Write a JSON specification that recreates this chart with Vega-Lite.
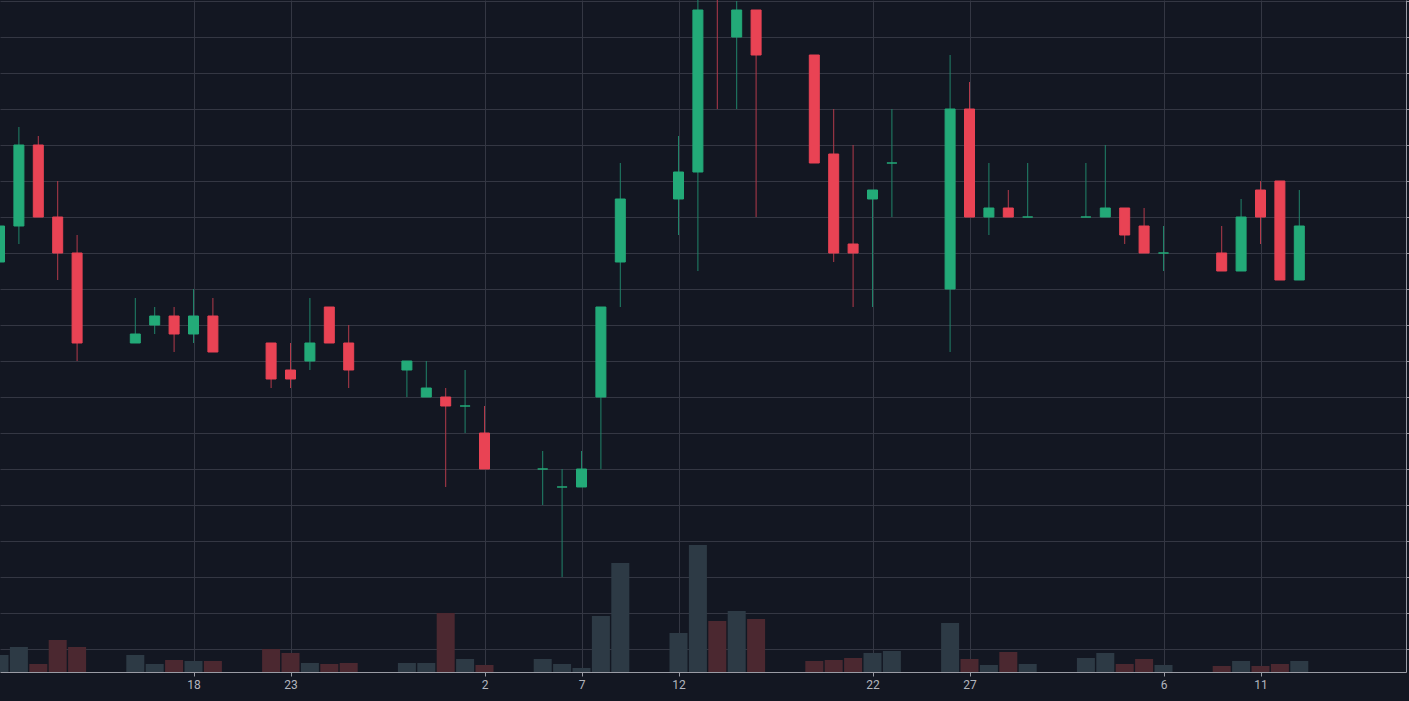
{
  "$schema": "https://vega.github.io/schema/vega-lite/v6.json",
  "width": 1406,
  "height": 672,
  "autosize": {"type": "none"},
  "padding": {"left": 0, "top": 0, "right": 3, "bottom": 29},
  "background": "#131722",
  "config": {
    "view": {"stroke": null, "fill": "#131722"},
    "axis": {
      "gridColor": "#343743",
      "gridWidth": 1,
      "domainColor": "#9a9ca5",
      "tickColor": "#9a9ca5",
      "labelColor": "#b2b5be",
      "labelFont": "Roboto",
      "labelFontSize": 12,
      "title": null
    }
  },
  "data": {
    "values": [
      {"date": "2024-07-08", "open": 110.75, "high": 111.75, "low": 110.75, "close": 111.75, "volume": 170000},
      {"date": "2024-07-09", "open": 111.75, "high": 114.5, "low": 111.25, "close": 114.0, "volume": 250000},
      {"date": "2024-07-10", "open": 114.0, "high": 114.25, "low": 112.0, "close": 112.0, "volume": 80000},
      {"date": "2024-07-11", "open": 112.0, "high": 113.0, "low": 110.25, "close": 111.0, "volume": 320000},
      {"date": "2024-07-12", "open": 111.0, "high": 111.5, "low": 108.0, "close": 108.5, "volume": 250000},
      {"date": "2024-07-15", "open": 108.5, "high": 109.75, "low": 108.5, "close": 108.75, "volume": 170000},
      {"date": "2024-07-16", "open": 109.0, "high": 109.5, "low": 108.75, "close": 109.25, "volume": 80000},
      {"date": "2024-07-17", "open": 109.25, "high": 109.5, "low": 108.25, "close": 108.75, "volume": 120000},
      {"date": "2024-07-18", "open": 108.75, "high": 110.0, "low": 108.5, "close": 109.25, "volume": 110000},
      {"date": "2024-07-19", "open": 109.25, "high": 109.75, "low": 108.25, "close": 108.25, "volume": 110000},
      {"date": "2024-07-22", "open": 108.5, "high": 108.5, "low": 107.25, "close": 107.5, "volume": 230000},
      {"date": "2024-07-23", "open": 107.75, "high": 108.5, "low": 107.25, "close": 107.5, "volume": 190000},
      {"date": "2024-07-24", "open": 108.0, "high": 109.75, "low": 107.75, "close": 108.5, "volume": 90000},
      {"date": "2024-07-25", "open": 109.5, "high": 109.5, "low": 108.5, "close": 108.5, "volume": 80000},
      {"date": "2024-07-26", "open": 108.5, "high": 109.0, "low": 107.25, "close": 107.75, "volume": 90000},
      {"date": "2024-07-29", "open": 107.75, "high": 108.0, "low": 107.0, "close": 108.0, "volume": 90000},
      {"date": "2024-07-30", "open": 107.0, "high": 108.0, "low": 107.0, "close": 107.25, "volume": 90000},
      {"date": "2024-07-31", "open": 107.0, "high": 107.25, "low": 104.5, "close": 106.75, "volume": 590000},
      {"date": "2024-08-01", "open": 106.75, "high": 107.75, "low": 106.0, "close": 106.75, "volume": 130000},
      {"date": "2024-08-02", "open": 106.0, "high": 106.75, "low": 105.0, "close": 105.0, "volume": 70000},
      {"date": "2024-08-05", "open": 105.0, "high": 105.5, "low": 104.0, "close": 105.0, "volume": 130000},
      {"date": "2024-08-06", "open": 104.5, "high": 105.0, "low": 102.0, "close": 104.5, "volume": 80000},
      {"date": "2024-08-07", "open": 104.5, "high": 105.5, "low": 104.5, "close": 105.0, "volume": 40000},
      {"date": "2024-08-08", "open": 107.0, "high": 109.5, "low": 105.0, "close": 109.5, "volume": 560000},
      {"date": "2024-08-09", "open": 110.75, "high": 113.5, "low": 109.5, "close": 112.5, "volume": 1090000},
      {"date": "2024-08-12", "open": 112.5, "high": 114.25, "low": 111.5, "close": 113.25, "volume": 390000},
      {"date": "2024-08-13", "open": 113.25, "high": 118.5, "low": 110.5, "close": 117.75, "volume": 1270000},
      {"date": "2024-08-14", "open": 119.5, "high": 120.0, "low": 115.0, "close": 118.5, "volume": 510000},
      {"date": "2024-08-15", "open": 117.0, "high": 118.0, "low": 115.0, "close": 117.75, "volume": 610000},
      {"date": "2024-08-16", "open": 117.75, "high": 117.75, "low": 112.0, "close": 116.5, "volume": 530000},
      {"date": "2024-08-19", "open": 116.5, "high": 116.5, "low": 113.5, "close": 113.5, "volume": 110000},
      {"date": "2024-08-20", "open": 113.75, "high": 115.0, "low": 110.75, "close": 111.0, "volume": 120000},
      {"date": "2024-08-21", "open": 111.25, "high": 114.0, "low": 109.5, "close": 111.0, "volume": 140000},
      {"date": "2024-08-22", "open": 112.5, "high": 112.75, "low": 109.5, "close": 112.75, "volume": 190000},
      {"date": "2024-08-23", "open": 113.5, "high": 115.0, "low": 112.0, "close": 113.5, "volume": 210000},
      {"date": "2024-08-26", "open": 110.0, "high": 116.5, "low": 108.25, "close": 115.0, "volume": 490000},
      {"date": "2024-08-27", "open": 115.0, "high": 115.75, "low": 112.0, "close": 112.0, "volume": 130000},
      {"date": "2024-08-28", "open": 112.0, "high": 113.5, "low": 111.5, "close": 112.25, "volume": 70000},
      {"date": "2024-08-29", "open": 112.25, "high": 112.75, "low": 112.0, "close": 112.0, "volume": 200000},
      {"date": "2024-08-30", "open": 112.0, "high": 113.5, "low": 112.0, "close": 112.0, "volume": 80000},
      {"date": "2024-09-02", "open": 112.0, "high": 113.5, "low": 112.0, "close": 112.0, "volume": 140000},
      {"date": "2024-09-03", "open": 112.0, "high": 114.0, "low": 112.0, "close": 112.25, "volume": 190000},
      {"date": "2024-09-04", "open": 112.25, "high": 112.25, "low": 111.25, "close": 111.5, "volume": 80000},
      {"date": "2024-09-05", "open": 111.75, "high": 112.25, "low": 111.0, "close": 111.0, "volume": 130000},
      {"date": "2024-09-06", "open": 111.0, "high": 111.75, "low": 110.5, "close": 111.0, "volume": 70000},
      {"date": "2024-09-09", "open": 111.0, "high": 111.75, "low": 110.5, "close": 110.5, "volume": 60000},
      {"date": "2024-09-10", "open": 110.5, "high": 112.5, "low": 110.5, "close": 112.0, "volume": 110000},
      {"date": "2024-09-11", "open": 112.75, "high": 113.0, "low": 111.25, "close": 112.0, "volume": 60000},
      {"date": "2024-09-12", "open": 113.0, "high": 113.0, "low": 110.25, "close": 110.25, "volume": 80000},
      {"date": "2024-09-13", "open": 110.25, "high": 112.75, "low": 110.25, "close": 111.75, "volume": 110000}
    ]
  },
  "layer": [
    {
      "mark": {"type": "bar", "size": 18, "clip": true},
      "encoding": {
        "x": {
          "field": "date", "type": "temporal",
          "scale": {"type": "utc", "padding": 0, "domain": [{"year": 2024, "month": 7, "date": 8, "hours": 0, "minutes": 37, "utc": true}, {"year": 2024, "month": 9, "date": 18, "hours": 12, "utc": true}]},
          "axis": {
            "orient": "bottom",
            "values": [
              {"year": 2024, "month": 7, "date": 8, "utc": true},
              {"year": 2024, "month": 7, "date": 18, "utc": true},
              {"year": 2024, "month": 7, "date": 23, "utc": true},
              {"year": 2024, "month": 8, "date": 2, "utc": true},
              {"year": 2024, "month": 8, "date": 7, "utc": true},
              {"year": 2024, "month": 8, "date": 12, "utc": true},
              {"year": 2024, "month": 8, "date": 22, "utc": true},
              {"year": 2024, "month": 8, "date": 27, "utc": true},
              {"year": 2024, "month": 9, "date": 6, "utc": true},
              {"year": 2024, "month": 9, "date": 11, "utc": true}
            ],
            "labelExpr": "utcFormat(datum.value, '%-d')",
            "grid": true,
            "tickSize": 4,
            "labelPadding": 3,
            "labelFlush": false,
            "labelOverlap": false
          }
        },
        "y": {"field": "volume", "type": "quantitative", "scale": {"domain": [0, 6720000], "nice": false, "zero": true}, "axis": null},
        "color": {"condition": {"test": "datum.close >= datum.open", "value": "#2d3a45"}, "value": "#4b2830"}
      }
    },
    {
      "mark": {"type": "rule", "strokeWidth": 1, "clip": true},
      "encoding": {
        "x": {"field": "date", "type": "temporal"},
        "y": {
          "field": "low", "type": "quantitative",
          "scale": {"domain": [99.3611, 118.0278], "nice": false, "zero": false},
          "axis": {
            "orient": "right",
            "values": [100, 101, 102, 103, 104, 105, 106, 107, 108, 109, 110, 111, 112, 113, 114, 115, 116, 117, 118],
            "labels": false,
            "ticks": true,
            "tickSize": 3,
            "grid": true,
            "domain": true
          }
        },
        "y2": {"field": "high"},
        "color": {"condition": {"test": "datum.close >= datum.open", "value": "#20846a"}, "value": "#b23a4b"}
      }
    },
    {
      "mark": {"type": "bar", "size": 10, "strokeWidth": 1, "clip": true},
      "encoding": {
        "x": {"field": "date", "type": "temporal"},
        "y": {"field": "open", "type": "quantitative", "scale": {"domain": [99.3611, 118.0278], "nice": false, "zero": false}, "axis": null},
        "y2": {"field": "close"},
        "fill": {"condition": {"test": "datum.close >= datum.open", "value": "#23aa78"}, "value": "#e94354"},
        "stroke": {"condition": {"test": "datum.close >= datum.open", "value": "#23aa78"}, "value": "#e94354"}
      }
    }
  ],
  "resolve": {"scale": {"y": "independent"}}
}
